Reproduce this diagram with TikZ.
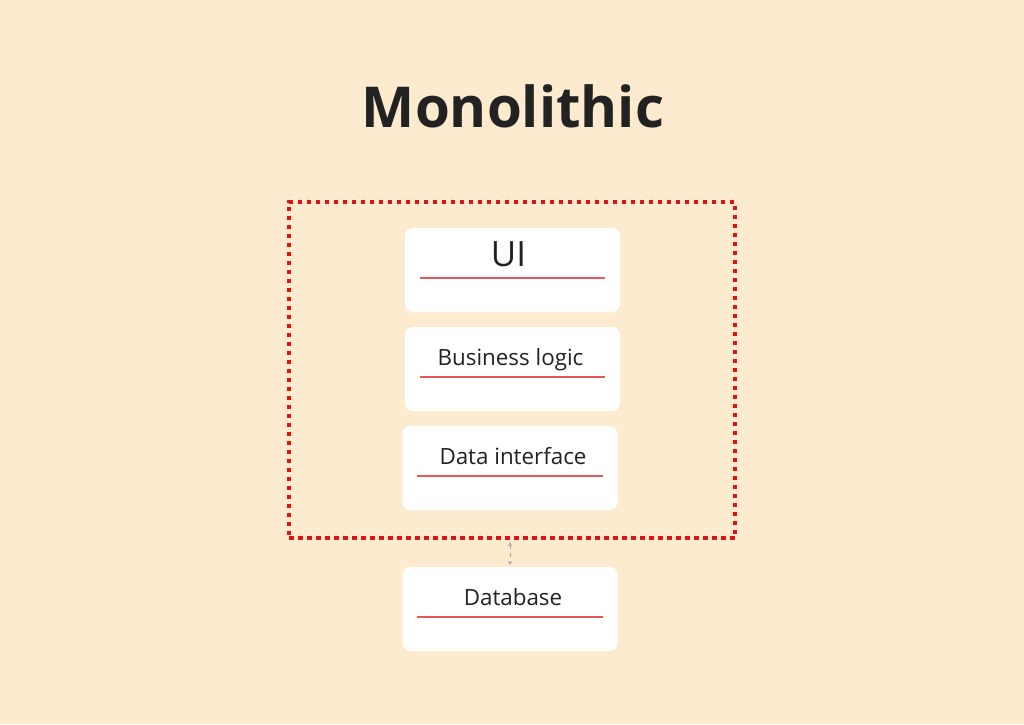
\documentclass[tikz,border=0pt]{standalone}
\usepackage{fontspec}
\setmainfont{Open Sans}
\usetikzlibrary{arrows.meta,calc}

\definecolor{paper}{RGB}{252,235,207}
\definecolor{ink}{RGB}{34,34,34}
\definecolor{dotred}{RGB}{226,18,18}
\definecolor{rulered}{RGB}{232,88,88}
\definecolor{linkgray}{RGB}{165,165,165}

\newcommand{\boxfont}{\fontsize{15.9}{19}\selectfont}
\newcommand{\uifont}{\fontsize{24.8}{30}\selectfont}

\tikzset{
	card/.style={fill=white, rounded corners=0.2cm, minimum width=5.375cm,
		minimum height=2.1cm, inner sep=0pt, outer sep=0pt},
	frame/.style={draw=dotred, line width=3.3pt, dash pattern=on 3.3pt off 3.1pt,
		minimum width=11.15cm, minimum height=8.4cm, inner sep=0pt, outer sep=0pt},
	underline/.style={draw=rulered, line width=1.1pt},
	link/.style={draw=linkgray, dashed, line width=0.6pt,
		{Stealth[length=3pt,width=3pt]}-{Stealth[length=3pt,width=3pt]}}
}

\begin{document}
\begin{tikzpicture}[x=0.025cm, y=-0.025cm]
	% background
	\fill[paper] (0,0) rectangle (1024,724);
	\useasboundingbox (0,0) rectangle (1024,724);
	% title
	\node[font=\bfseries\fontsize{40.1}{46}\selectfont, text=ink, anchor=base] (title) at (513,127) {Monolithic};
	% the layers
	\foreach \n/\x/\y/\dx/\f/\t in {ui/512.5/228/-4/\uifont/UI,
		logic/512.5/327/-2/\boxfont/Business logic,
		data/510/426/3/\boxfont/Data interface,
		db/510/567/3/\boxfont/Database}{
		\node[card, anchor=north] (\n) at (\x,\y) {};
		\node[font=\f, text=ink, anchor=base] (\n-text) at ($(\n.north)+(\dx,38)$) {\t};
		\draw[underline] ($(\n.north west)+(15,50)$) -- ($(\n.north east)+(-15,50)$);
	}
	% outline of the monolith
	\node[frame] (mono) at (512,370) {};
	% link to the database
	\draw[link] ($(db.north |- mono.south)+(0,4)$) -- ($(db.north)+(0,-2)$);
\end{tikzpicture}
\end{document}
